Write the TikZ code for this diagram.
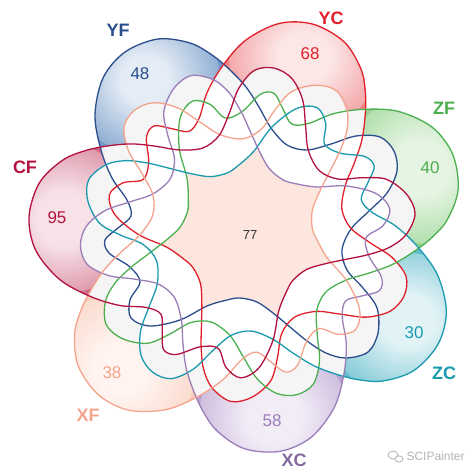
\documentclass[tikz,border=0pt]{standalone}
\usepackage{fontspec}
\setmainfont{Liberation Sans}
\definecolor{lc0}{HTML}{2A4D8C}\definecolor{ac0}{HTML}{E4ECF5}\definecolor{bc0}{HTML}{7399C8}
\definecolor{lc1}{HTML}{E0202A}\definecolor{ac1}{HTML}{FCE6E6}\definecolor{bc1}{HTML}{EF8487}
\definecolor{lc2}{HTML}{4CAF50}\definecolor{ac2}{HTML}{E6F5E3}\definecolor{bc2}{HTML}{96D391}
\definecolor{lc3}{HTML}{1A9AAE}\definecolor{ac3}{HTML}{E2F3F6}\definecolor{bc3}{HTML}{62BCCC}
\definecolor{lc4}{HTML}{9B7DB8}\definecolor{ac4}{HTML}{F2ECF7}\definecolor{bc4}{HTML}{B9A1D0}
\definecolor{lc5}{HTML}{F4A48C}\definecolor{ac5}{HTML}{FFF4F0}\definecolor{bc5}{HTML}{F9CDBD}
\definecolor{lc6}{HTML}{B3113E}\definecolor{ac6}{HTML}{F7E2E8}\definecolor{bc6}{HTML}{D06E8A}
\definecolor{pinkc}{HTML}{FCE6DE}
\definecolor{grayreg}{HTML}{F5F5F5}
\foreach \n in {0,...,6}{%
  \pgfdeclareradialshading{lobe\n}{\pgfpoint{0bp}{0bp}}{color(0bp)=(ac\n); color(8bp)=(ac\n); color(31bp)=(bc\n); color(50bp)=(bc\n)}}
\def\petal{plot[smooth cycle,tension=0.55] coordinates {(158,39) (190,43) (212,55) (230,70) (246,87) (259,107) (271,128) (287,145) (307,150) (331,144) (356,136) (380,137) (394,151) (397,171) (387,193) (368,212) (351,229) (342,250) (347,270) (363,288) (377,308) (378,333) (368,352) (346,358) (326,353) (307,341) (290,327) (273,313) (257,302) (240,298) (227,300) (207,306) (180,320) (150,326) (131,318) (130,300) (140,282) (130,267) (109,253) (105,240) (118,228) (131,216) (127,200) (112,178) (101,150) (95,115) (103,78) (125,52)}}
\tikzset{rot/.style={rotate around={#1:(248,234)}},
  outl/.style={line width=1.3pt},
  setlabel/.style={font=\fontsize{18}{20}\selectfont\bfseries},
  numlabel/.style={font=\fontsize{17}{19}\selectfont}}
\begin{document}
\begin{tikzpicture}[x=1pt,y=-1pt]
\useasboundingbox (0,0) rectangle (474,476);
% coloured set fills
\foreach \i in {0,...,6}{
  \pgfmathsetmacro\ai{-51.428571*\i}
  \begin{scope}[rot=\ai]
    \clip \petal;
    \fill[bc\i] (-100,-100) rectangle (600,600);
    \shade[shading=lobe\i] (145,80) circle (75);
  \end{scope}
}
% two-set regions
\foreach \i in {0,...,6}{\foreach \j in {0,...,6}{\ifnum\j>\i
  \pgfmathsetmacro\ai{-51.428571*\i}\pgfmathsetmacro\aj{-51.428571*\j}
  \begin{scope}\clip[rot=\ai] \petal; \fill[grayreg, rot=\aj] \petal; \end{scope}
\fi}}
% three or more sets
\foreach \i in {0,...,6}{\foreach \j in {0,...,6}{\foreach \k in {0,...,6}{\ifnum\j>\i\ifnum\k>\j
  \pgfmathsetmacro\ai{-51.428571*\i}\pgfmathsetmacro\aj{-51.428571*\j}\pgfmathsetmacro\ak{-51.428571*\k}
  \begin{scope}\clip[rot=\ai] \petal; \clip[rot=\aj] \petal; \fill[white, rot=\ak] \petal; \end{scope}
\fi\fi}}}
% all seven
\begin{scope}
\clip[rot=0] \petal; \clip[rot=-51.428571] \petal; \clip[rot=-102.857143] \petal;
\clip[rot=-154.285714] \petal; \clip[rot=-205.714286] \petal; \clip[rot=-257.142857] \petal;
\fill[pinkc, rot=-308.571429] \petal;
\end{scope}
% outlines
\foreach \i in {0,...,6}{
  \pgfmathsetmacro\ai{-51.428571*\i}
  \draw[outl, draw=lc\i, rot=\ai] \petal;
}
% labels
\node[setlabel, text=lc0] (lYF) at (118,30) {YF};
\node[setlabel, text=lc1] (lYC) at (331,18) {YC};
\node[setlabel, text=lc2] (lZF) at (444,108) {ZF};
\node[setlabel, text=lc3] (lZC) at (444,373) {ZC};
\node[setlabel, text=lc4!85!black] (lXC) at (294,460) {XC};
\node[setlabel, text=lc5] (lXF) at (88,415) {XF};
\node[setlabel, text=lc6] (lCF) at (25,167) {CF};
\node[numlabel, text=lc0] (n48) at (140,74) {48};
\node[numlabel, text=lc1] (n68) at (310,54) {68};
\node[numlabel, text=lc2] (n40) at (430,168) {40};
\node[numlabel, text=lc3] (n30) at (414,333) {30};
\node[numlabel, text=lc4] (n58) at (272,421) {58};
\node[numlabel, text=lc5] (n38) at (112,373) {38};
\node[numlabel, text=lc6] (n95) at (57,218) {95};
\node[font=\fontsize{13}{15}\selectfont, text=black!80] (n77) at (250,235) {77};
% watermark
\node[font=\fontsize{12}{14}\selectfont, text=black!30, anchor=west] (wm) at (403,456) {SCIPainter};
\draw[black!30, line width=0.8pt] (393,455) ellipse (5 and 4);
\draw[black!30, line width=0.8pt, fill=white] (399,459) ellipse (4 and 3.2);
\end{tikzpicture}
\end{document}
